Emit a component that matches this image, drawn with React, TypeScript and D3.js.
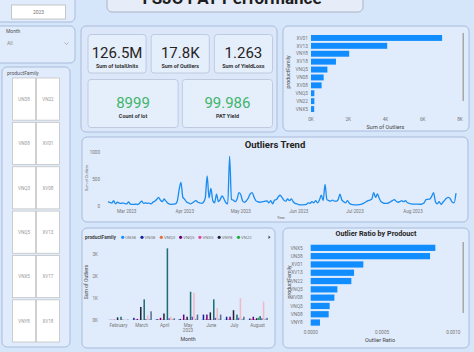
import React from 'react';
import * as d3 from 'd3';

const FONT = 'Roboto, "Open Sans", sans-serif';
const BG = '#d5e5fa';
const PANEL = '#e0ebfb';
const BORDER = '#aabbdc';

// slicers
const yearValue = '2023';
const monthValue = 'All';
const slicerProducts = ['UN38', 'VN22', 'VN08', 'XV01', 'VNQ3', 'XV08', 'VNQ5', 'XV13', 'VNX5', 'XV17', 'VNY8', 'XV18'];

// KPI cards
const kpiTopValues = ['126.5M', '17.8K', '1.263'];
const kpiTopLabels = ['Sum of totalUnits', 'Sum of Outliers', 'Sum of YieldLoss'];
const kpiBottomValues = ['8999', '99.986'];
const kpiBottomLabels = ['Count of lot', 'PAT Yield'];

// Sum of Outliers by productFamily
const outlierProducts = ['XV01', 'XV13', 'VNY8', 'XV18', 'VNQ5', 'VN08', 'XV08', 'VNQ3', 'VN22', 'VNX5'];
const outlierSums = [7040, 4090, 2050, 1340, 880, 680, 570, 180, 180, 170];

// Outlier Ratio by product
const ratioProducts = ['VNX5', 'UN38', 'XV01', 'XV13', 'VN22', 'VNQ5', 'XV08', 'VNQ3', 'VN08', 'VNY8'];
const ratioValues = [0.000874, 0.000837, 0.000369, 0.000304, 0.000285, 0.000187, 0.000166, 0.000133, 0.000126, 0.000065];

// Outliers trend, daily from 2023-02-19
const trendStart = new Date(2023, 1, 19);
const trendValues = [
  80, 65, 55, 100, 40, 70, 55, 50, 60, 45,
  40, 75, 35, 30, 30, 35, 28, 55, 90, 50,
  60, 50, 55, 40, 70, 90, 120, 160, 110, 80,
  130, 90, 50, 35, 30, 35, 40, 90, 300, 440,
  160, 125, 75, 60, 40, 55, 80, 100, 70, 60,
  50, 70, 150, 560, 150, 330, 100, 60, 220, 80,
  120, 190, 130, 60, 40, 925, 120, 110, 80, 130,
  250, 210, 90, 70, 100, 150, 225, 250, 170, 100,
  80, 70, 75, 80, 90, 95, 60, 100, 40, 110,
  120, 170, 200, 160, 110, 90, 130, 100, 130, 80,
  50, 40, 25, 20, 22, 25, 30, 60, 50, 80,
  60, 100, 60, 110, 200, 100, 400, 120, 100, 90,
  110, 90, 90, 120, 220, 110, 80, 60, 100, 50,
  30, 25, 20, 20, 25, 30, 40, 60, 80, 100,
  110, 130, 250, 160, 225, 140, 80, 60, 50, 50,
  60, 80, 100, 120, 90, 70, 80, 100, 80, 100,
  60, 50, 40, 35, 35, 35, 35, 30, 40, 60,
  120, 125, 130, 180, 250, 80, 40, 80, 30, 70,
  110, 150, 160, 130, 70, 60, 240,
];

// monthly outliers by productFamily
const months = ['February', 'March', 'April', 'May', 'June', 'July', 'August'];
const seriesNames = ['UN38', 'VN08', 'VNQ3', 'VNQ5', 'VNX5', 'VNY8', 'VN22', 'XV01', 'XV08', 'XV13', 'XV17', 'XV18'];
const seriesColors = ['#118dff', '#12239e', '#e66c37', '#6b007b', '#e044a7', '#22223f', '#1aab40', '#1e6e72', '#744ec2', '#f2b8c8', '#8aa9a0', '#5c6f9a'];
const un38Monthly = [5, 10, 10, 20, 10, 15, 10];
const vn08Monthly = [10, 100, 40, 50, 250, 150, 70];
const vnq3Monthly = [10, 20, 30, 20, 30, 30, 40];
const vnq5Monthly = [15, 50, 100, 250, 250, 150, 150];
const vnx5Monthly = [5, 15, 20, 30, 40, 20, 40];
const vny8Monthly = [120, 600, 300, 150, 350, 450, 80];
const vn22Monthly = [5, 10, 10, 15, 15, 15, 110];
const xv01Monthly = [150, 950, 3300, 1300, 950, 250, 180];
const xv08Monthly = [20, 40, 80, 150, 100, 100, 80];
const xv13Monthly = [30, 200, 150, 1250, 550, 1000, 850];
const xv17Monthly = [10, 50, 40, 60, 60, 50, 50];
const xv18Monthly = [20, 400, 80, 250, 250, 150, 100];
const monthlySeries = [un38Monthly, vn08Monthly, vnq3Monthly, vnq5Monthly, vnx5Monthly, vny8Monthly, vn22Monthly, xv01Monthly, xv08Monthly, xv13Monthly, xv17Monthly, xv18Monthly];
const legendCount = 7;

const BAR = '#118dff';
const TICK = '#777';

const Panel = ({ x, y, w, h, fill = PANEL, stroke = BORDER }: any) => (
  <rect x={x} y={y} width={w} height={h} rx={5} fill={fill} stroke={stroke} strokeWidth={1} />
);

const Slicers = () => {
  const col = d3.scaleBand<number>().domain([0, 1]).range([12.5, 59.5]).paddingInner(0.03);
  const row = d3.scaleBand<number>().domain(d3.range(6)).range([78, 342]).paddingInner(0.05);
  return (
    <g>
      <Panel x={-5} y={-8} w={80} h={30} />
      <rect x={11.5} y={5} width={54} height={14} fill="#fff" stroke="#bbb" strokeWidth={0.8} />
      <text x={38.5} y={14} fontSize={5} fill="#777" textAnchor="middle">{yearValue}</text>
      <Panel x={-5} y={26} w={80} h={37} />
      <text x={6} y={33} fontSize={5} fill="#555">Month</text>
      <text x={7} y={45} fontSize={5} fill="#888">{monthValue}</text>
      <path d="M64.5,42.5 l2,2 l2,-2" fill="none" stroke="#999" strokeWidth={0.7} />
      <Panel x={2} y={67} w={68} h={280} />
      <text x={7} y={74.5} fontSize={5} fill="#555">productFamily</text>
      {slicerProducts.map((p, i) => {
        const cx = col(i % 2)!;
        const cy = row(Math.floor(i / 2))!;
        return (
          <g key={p}>
            <rect x={cx} y={cy} width={col.bandwidth()} height={row.bandwidth()} fill="#fff" stroke="#c4c4c4" strokeWidth={0.8} />
            <text x={cx + col.bandwidth() / 2} y={cy + row.bandwidth() / 2 + 1.7} fontSize={4.6} fill="#999" textAnchor="middle">{p}</text>
          </g>
        );
      })}
    </g>
  );
};

const Kpis = () => {
  const topX = d3.scaleBand<number>().domain(d3.range(3)).range([88, 272.5]).paddingInner(0.08);
  const botX = d3.scaleBand<number>().domain(d3.range(2)).range([88, 272.5]).paddingInner(0.045);
  return (
    <g>
      <Panel x={81} y={26} w={196} h={106} fill="#dce8fa" />
      {kpiTopValues.map((v, i) => (
        <g key={v}>
          <rect x={topX(i)} y={34.5} width={topX.bandwidth()} height={38.5} rx={3} fill="#e5eefb" stroke="#b6c2da" strokeWidth={0.8} />
          <text x={topX(i)! + topX.bandwidth() / 2} y={57.5} fontSize={15} fill="#252423" textAnchor="middle" fontFamily={FONT}>{v}</text>
          <text x={topX(i)! + topX.bandwidth() / 2} y={67.5} fontSize={5.4} fontWeight="bold" fill="#333" textAnchor="middle" fontFamily={FONT}>{kpiTopLabels[i]}</text>
        </g>
      ))}
      {kpiBottomValues.map((v, i) => (
        <g key={v}>
          <rect x={botX(i)} y={79.5} width={botX.bandwidth()} height={48} rx={3} fill="#e5eefb" stroke="#b6c2da" strokeWidth={0.8} />
          <text x={botX(i)! + botX.bandwidth() / 2} y={107.5} fontSize={15} fill="#3fb56a" textAnchor="middle" fontFamily={FONT}>{v}</text>
          <text x={botX(i)! + botX.bandwidth() / 2} y={118} fontSize={5.4} fontWeight="bold" fill="#333" textAnchor="middle" fontFamily={FONT}>{kpiBottomLabels[i]}</text>
        </g>
      ))}
    </g>
  );
};

const OutlierBars = () => {
  const y = d3.scaleBand().domain(outlierProducts).range([34, 113]).paddingInner(0.25).paddingOuter(0.125);
  const x = d3.scaleLinear().domain([0, 8000]).range([311, 460]);
  return (
    <g fontFamily={FONT}>
      <Panel x={283} y={26} w={186} h={105} />
      {outlierProducts.map((p, i) => (
        <g key={p}>
          <rect x={x(0)} y={y(p)} width={x(outlierSums[i]) - x(0)} height={y.bandwidth()} fill={BAR} />
          <text x={x(0) - 3} y={y(p)! + y.bandwidth() / 2 + 1.7} fontSize={4.8} fill={TICK} textAnchor="end">{p}</text>
        </g>
      ))}
      {x.ticks(4).map(t => (
        <text key={t} x={x(t)} y={120.5} fontSize={4.8} fill={TICK} textAnchor="middle">{d3.format('~s')(t).replace('k', 'K') === '0' ? '0K' : d3.format('~s')(t).replace('k', 'K')}</text>
      ))}
      <text x={(x(0) + x(8000)) / 2} y={128.5} fontSize={5.5} fill="#444" textAnchor="middle">Sum of Outliers</text>
      <text transform={`translate(290,72) rotate(-90)`} fontSize={5.2} fill="#444" textAnchor="middle">productFamily</text>
      <rect x={462.5} y={33} width={1.5} height={68} fill="#a8a8a8" />
    </g>
  );
};

const TrendChart = () => {
  const data = trendValues.map((v, i) => ({ date: d3.timeDay.offset(trendStart, i), value: v }));
  const x = d3.scaleTime().domain([data[0].date, data[data.length - 1].date]).range([108, 456]);
  const y = d3.scaleLinear().domain([0, 1000]).range([206, 152.3]);
  const line = d3.line<{ date: Date; value: number }>().x(d => x(d.date)).y(d => y(d.value)).curve(d3.curveMonotoneX);
  const monthTicks = d3.timeMonth.range(new Date(2023, 2, 1), new Date(2023, 8, 1));
  return (
    <g fontFamily={FONT}>
      <Panel x={82} y={137} w={386} h={85} />
      <text x={275} y={147.5} fontSize={9.5} fontWeight="bold" fill="#252423" textAnchor="middle">Outliers Trend</text>
      {[0, 500, 1000].map(t => (
        <text key={t} x={100} y={y(t) + 1.6} fontSize={4.6} fill={TICK} textAnchor="end">{t}</text>
      ))}
      <text transform={`translate(88,178) rotate(-90)`} fontSize={3.8} fill="#666" textAnchor="middle">Sum of Outliers</text>
      {monthTicks.map(m => (
        <text key={m.toISOString()} x={x(m)} y={213} fontSize={4.6} fill={TICK} textAnchor="middle">{d3.timeFormat('%b %Y')(m)}</text>
      ))}
      <text x={281} y={218.5} fontSize={3.8} fill="#666" textAnchor="middle">Year</text>
      <path d={line(data)!} fill="none" stroke="#1a8cf0" strokeWidth={1.3} strokeLinejoin="round" />
    </g>
  );
};

const MonthlyBars = () => {
  const x0 = d3.scaleBand().domain(months).range([108, 268]).paddingInner(0.1);
  const x1 = d3.scaleBand().domain(seriesNames).range([0, x0.bandwidth()]).padding(0.12);
  const y = d3.scaleLinear().domain([0, 3500]).range([320, 244]);
  const legendX = d3.scaleLinear().domain([0, 1]).range([122.7, 142]);
  return (
    <g fontFamily={FONT}>
      <Panel x={82} y={228} w={193} h={120} />
      <text x={85} y={239} fontSize={4.8} fontWeight="bold" fill="#444">productFamily</text>
      {seriesNames.slice(0, legendCount).map((s, i) => (
        <g key={s}>
          <circle cx={legendX(i)} cy={237.3} r={1.6} fill={seriesColors[i]} />
          <text x={legendX(i) + 2.6} y={239} fontSize={4.3} fill="#777">{s}</text>
        </g>
      ))}
      <path d="M268.5,235.5 l2,1.8 l-2,1.8 z" fill="#444" />
      {y.ticks(3).map(t => (
        <text key={t} x={98} y={y(t) + 1.6} fontSize={4.6} fill={TICK} textAnchor="end">{`${t / 1000}K`}</text>
      ))}
      <text transform={`translate(87.5,282) rotate(-90)`} fontSize={5} fill="#444" textAnchor="middle">Sum of Outliers</text>
      {months.map((m, mi) => (
        <g key={m}>
          {seriesNames.map((s, si) => (
            <rect key={s} x={x0(m)! + x1(s)!} y={y(monthlySeries[si][mi])} width={x1.bandwidth()} height={y(0) - y(monthlySeries[si][mi])} fill={seriesColors[si]} />
          ))}
          <text x={x0(m)! + x0.bandwidth() / 2} y={326.8} fontSize={4.6} fill={TICK} textAnchor="middle">{m}</text>
        </g>
      ))}
      <text x={x0('May')! + x0.bandwidth() / 2} y={332.3} fontSize={4.6} fill={TICK} textAnchor="middle">2023</text>
      <text x={188} y={341} fontSize={5.3} fill="#444" textAnchor="middle">Month</text>
    </g>
  );
};

const RatioBars = () => {
  const y = d3.scaleBand().domain(ratioProducts).range([243.7, 326.7]).paddingInner(0.25).paddingOuter(0.125);
  const x = d3.scaleLinear().domain([0, 0.001]).range([310.7, 453.3]);
  return (
    <g fontFamily={FONT}>
      <Panel x={283} y={228} w={186} h={120} />
      <text x={376} y={235.5} fontSize={7.2} fontWeight="bold" fill="#252423" textAnchor="middle">Outlier Ratio by Prodouct</text>
      {ratioProducts.map((p, i) => (
        <g key={p}>
          <rect x={x(0)} y={y(p)} width={x(ratioValues[i]) - x(0)} height={y.bandwidth()} fill={BAR} />
          <text x={x(0) - 8} y={y(p)! + y.bandwidth() / 2 + 1.7} fontSize={4.8} fill={TICK} textAnchor="end">{p}</text>
        </g>
      ))}
      {[0, 0.0005, 0.001].map(t => (
        <text key={t} x={x(t)} y={334} fontSize={4.6} fill={TICK} textAnchor="middle">{d3.format('.4f')(t)}</text>
      ))}
      <text x={380} y={341.5} fontSize={5.5} fill="#444" textAnchor="middle">Outlier Ratio</text>
      <text transform={`translate(290.5,282) rotate(-90)`} fontSize={5.2} fill="#444" textAnchor="middle">productFamily</text>
      <rect x={462.5} y={242} width={1.5} height={71} fill="#a8a8a8" />
    </g>
  );
};

export default function App() {
  return (
    <svg width={474} height={352} style={{ position: 'absolute', left: 0, top: 0 }} fontFamily={FONT}>
      <rect width={474} height={352} fill={BG} />
      <Slicers />
      <Panel x={107} y={-12} w={256} h={24} fill="#e6edf8" stroke="#a9b4c8" />
      <text x={232} y={4} fontSize={17} fontWeight="bold" fill="#1e1e1e" textAnchor="middle" fontFamily={FONT}>FSJO PAT Performance</text>
      <Kpis />
      <OutlierBars />
      <TrendChart />
      <MonthlyBars />
      <RatioBars />
    </svg>
  );
}
